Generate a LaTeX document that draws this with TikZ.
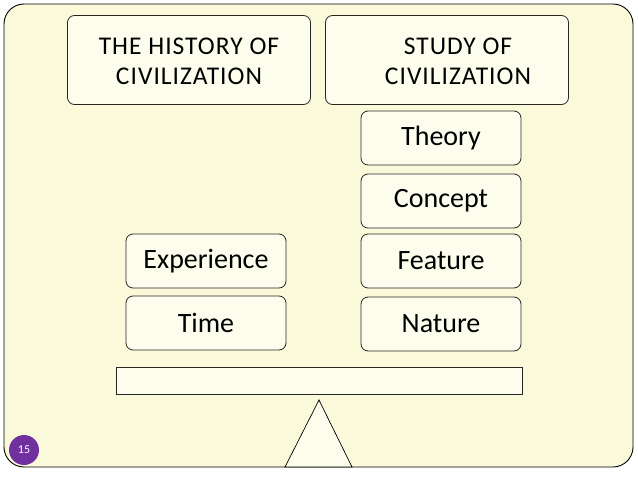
\documentclass[tikz,border=0pt]{standalone}
\usepackage{fontspec}
\setmainfont{Carlito}
\usetikzlibrary{positioning}
\definecolor{xpaper}{RGB}{250,250,218}
\definecolor{xcard}{RGB}{253,253,238}
\definecolor{xplum}{RGB}{112,48,160}

\begin{document}
\begin{tikzpicture}[x=1pt, y=-1pt,
  card/.style={draw=black!85, fill=xcard, rounded corners=7pt, line width=0.8pt,
               minimum width=160pt, minimum height=54pt,
               font=\fontsize{28}{30}\selectfont, align=center, inner sep=0pt},
  head/.style={card, minimum width=243pt, minimum height=89pt},
  headtext/.style={align=center, inner sep=0pt,
               font=\fontsize{25.5}{30}\selectfont\addfontfeature{LetterSpace=4}},
  badge/.style={circle, fill=xplum, text=white, minimum size=30pt, inner sep=0pt,
                font=\fontsize{12}{13}\selectfont}
]
  \useasboundingbox (0,0) rectangle (638,479);
  \fill[white] (0,0) rectangle (638,479);
  \draw[fill=xpaper, rounded corners=20pt, line width=0.9pt] (4,4) rectangle (633,467);

  \node[head] (hist)  at (189,60)  {};
  \node[head] (study) at (447,60)  {};
  \node[headtext] (histtext)  at (189,61) {THE HISTORY OF\\CIVILIZATION};
  \node[headtext] (studytext) at (458,61) {STUDY OF\\CIVILIZATION};

  \node[card] (theory)  at (441,138) {Theory};
  \node[card] (concept) at (441,201) {Concept};
  \node[card] (feature) at (441,261) {Feature};
  \node[card] (nature)  at (441,324) {Nature};

  \node[card] (exper) at (206,261) {Experience};
  \node[card] (time)  at (206,323) {Time};

  \node[draw=black!85, fill=xcard, line width=0.8pt, minimum width=406pt,
        minimum height=27pt, inner sep=0pt] (plank) at (319,380.5) {};
  \draw[fill=xcard, line width=0.7pt] (319,400) -- (352,467) -- (285,467) -- cycle;

  \node[badge] (page) at (24,450) {15};
\end{tikzpicture}
\end{document}
